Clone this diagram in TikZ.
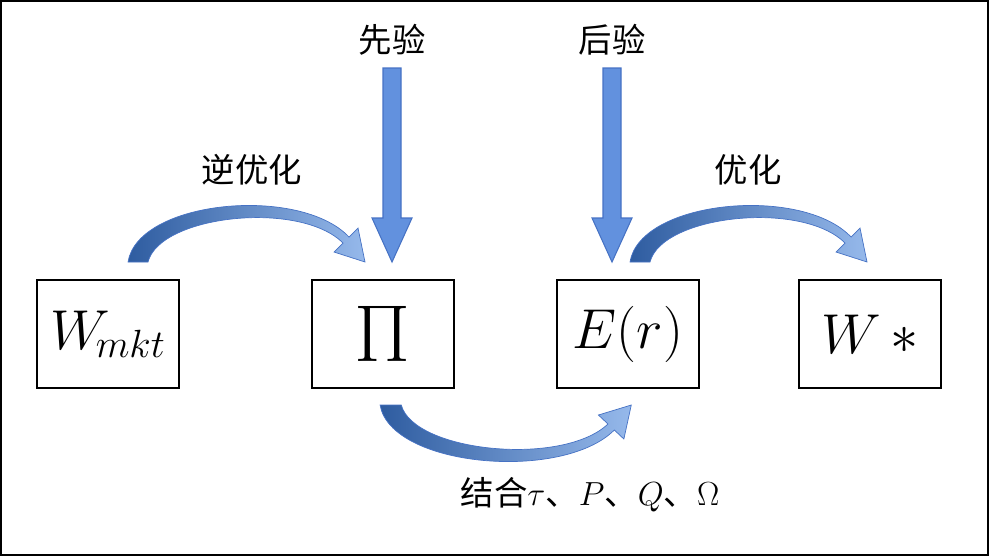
\RequirePackage{fix-cm}
\documentclass[tikz,border=0pt]{standalone}
\usepackage{fontspec}
\newfontfamily\cjk{Noto Sans CJK SC}
\begin{document}
\begin{tikzpicture}[x=0.02cm,y=-0.02cm,
  box/.style={draw,line width=1pt,minimum width=2.84cm,minimum height=2.16cm,inner sep=0pt},
  lbl/.style={font=\cjk\fontsize{19}{22}\selectfont},
  varrow/.style={fill={rgb,255:red,98;green,145;blue,222},draw={rgb,255:red,70;green,114;blue,196},line width=0.6pt},
  carrow/.style={left color={rgb,255:red,46;green,92;blue,160},right color={rgb,255:red,150;green,185;blue,235},draw={rgb,255:red,70;green,114;blue,196},line width=0.4pt}]
\useasboundingbox (0,0) rectangle (989,556);
\draw[line width=1pt] (1,1) rectangle (988,555);
\node[box,font=\fontsize{32}{32}\selectfont] (w) at (108,334) {$W_{\!mkt}$};
\node[box,font=\fontsize{46}{46}\selectfont] (p) at (383,334) {$\Pi$};
\node[box,font=\fontsize{32}{32}\selectfont] (e) at (628,334) {$E(r)$};
\node[box,font=\fontsize{32}{32}\selectfont] (ws) at (870,334) {$W\,{*}$};
\node[lbl] (l1) at (392,40) {先验};
\node[lbl] (l2) at (612,40) {后验};
\node[lbl] (l3) at (252,170) {逆优化};
\node[lbl] (l4) at (748,170) {优化};
\node[font=\fontsize{19}{22}\selectfont] (l5) at (590,495) {{\cjk 结合}$\tau${\cjk 、}$P${\cjk 、}$Q${\cjk 、}$\Omega$};
% vertical arrows
\foreach \cx in {392,612}
  \draw[varrow] (\cx-9,68) -- (\cx+9,68) -- (\cx+9,218) -- (\cx+20,218) -- (\cx,262) -- (\cx-20,218) -- (\cx-9,218) -- cycle;
% curved arrows
\foreach \dx in {0,502}
  \draw[carrow,xshift=\dx*0.02cm] (128,262) .. controls (138,200) and (300,185) .. (349,237) -- (358,228) -- (365,262) -- (334,252) -- (343,243) .. controls (300,200) and (160,215) .. (148,262) -- cycle;
\begin{scope}[shift={(263,667)},yscale=-1,xscale=1.06,xshift=-10]
\draw[carrow] (128,262) .. controls (138,200) and (300,185) .. (349,237) -- (358,228) -- (365,262) -- (334,252) -- (343,243) .. controls (300,200) and (160,215) .. (148,262) -- cycle;
\end{scope}
\end{tikzpicture}
\end{document}
